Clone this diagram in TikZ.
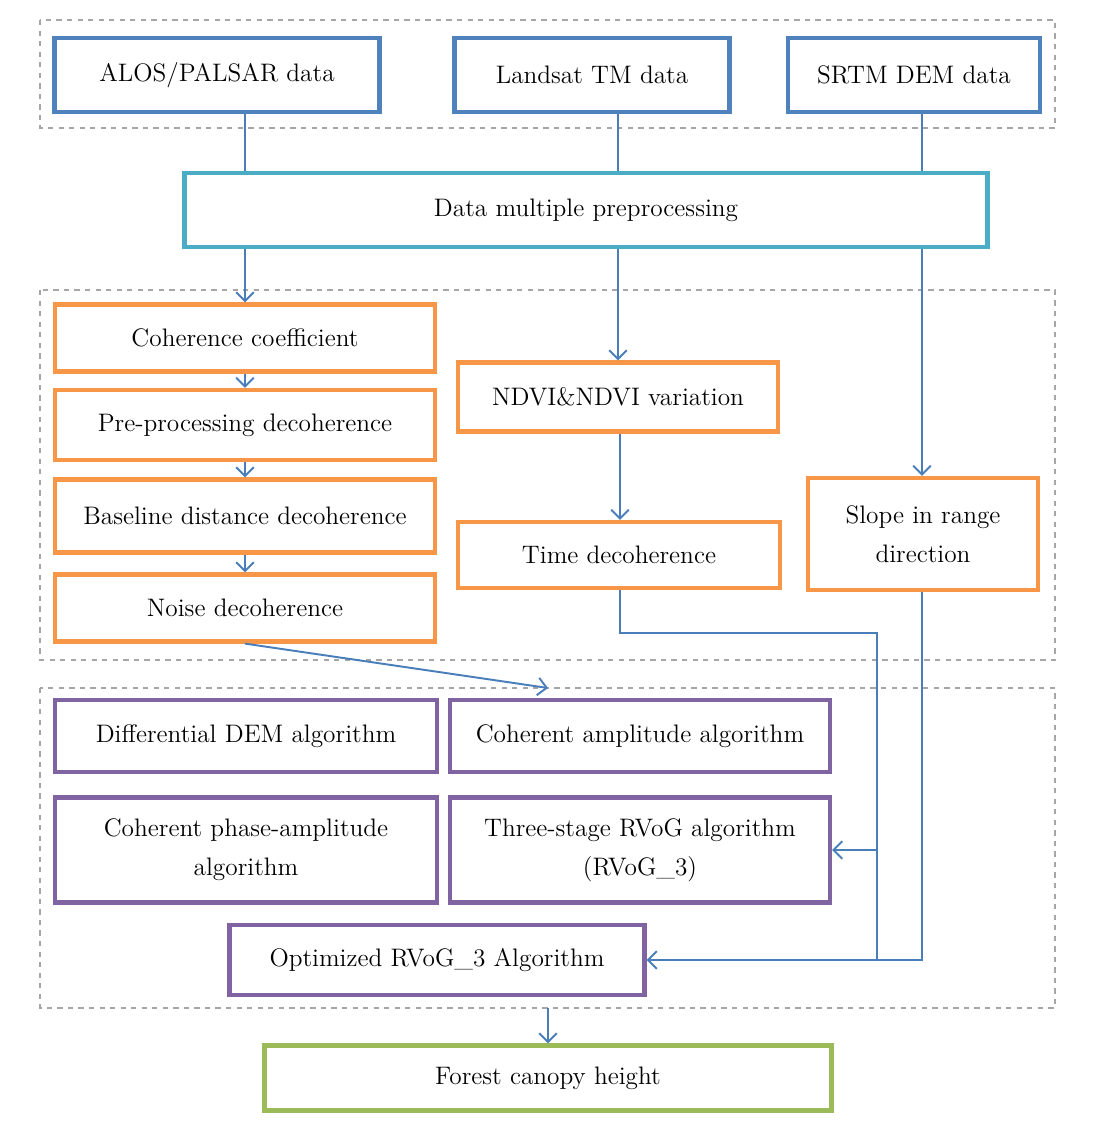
\documentclass[tikz,border=0pt]{standalone}
\usepackage{tikz}
\usetikzlibrary{calc, arrows.meta}
\definecolor{cblue}{HTML}{4F81BD}
\definecolor{ccyan}{HTML}{4BACC6}
\definecolor{corange}{HTML}{F79646}
\definecolor{cpurple}{HTML}{8064A2}
\definecolor{cgreen}{HTML}{9BBB59}
\definecolor{cline}{HTML}{4A7EBB}
\tikzset{
	box/.style={draw, line width=2.4pt, font=\Large, align=center, inner sep=0pt},
	grp/.style={draw=gray!70, dashed, line width=0.8pt},
	conn/.style={draw=cline, line width=1.1pt},
	arr/.style={conn, -{Straight Barb[length=5pt,width=10pt]}}
}
\begin{document}
\begin{tikzpicture}[x=0.02cm, y=-0.02cm]
	\useasboundingbox (0,0) rectangle (1100,1128);
	
	% dashed groups
	\draw[grp] (40,20) rectangle (1055,128);
	\draw[grp] (40,290) rectangle (1055,660);
	\draw[grp] (40,688) rectangle (1055,1008);
	\coordinate (g3b) at (548,1008);
	\coordinate (g3t) at (548,688);
	
	% input data
	\node[box, draw=cblue, minimum width=6.5cm, minimum height=1.48cm] (alos) at (217,75) {ALOS/PALSAR data};
	\node[box, draw=cblue, minimum width=5.5cm, minimum height=1.48cm] (land) at (592,75) {Landsat TM data};
	\node[box, draw=cblue, minimum width=5.04cm, minimum height=1.48cm] (srtm) at (914,75) {SRTM DEM data};
	\node[box, draw=ccyan, minimum width=16.06cm, minimum height=1.48cm] (pre) at (586,210) {Data multiple preprocessing};
	
	% coherence chain
	\node[box, draw=corange, minimum width=7.6cm, minimum height=1.34cm] (coh) at (245,338) {Coherence coefficient};
	\node[box, draw=corange, minimum width=7.6cm, minimum height=1.4cm] (ppd) at (245,425) {Pre-processing decoherence};
	\node[box, draw=corange, minimum width=7.6cm, minimum height=1.46cm] (bdd) at (245,516) {Baseline distance decoherence};
	\node[box, draw=corange, minimum width=7.6cm, minimum height=1.34cm] (nod) at (245,608) {Noise decoherence};
	\node[box, draw=corange, minimum width=6.4cm, minimum height=1.38cm] (ndvi) at (618,397) {NDVI\&NDVI variation};
	\node[box, draw=corange, minimum width=6.44cm, minimum height=1.32cm] (td) at (619,555) {Time decoherence};
	\node[box, draw=corange, minimum width=4.6cm, minimum height=2.24cm] (slope) at (923,534) {Slope in range\\[4pt]direction};
	
	% algorithms
	\node[box, draw=cpurple, minimum width=7.64cm, minimum height=1.44cm] (ddem) at (246,736) {Differential DEM algorithm};
	\node[box, draw=cpurple, minimum width=7.6cm, minimum height=1.44cm] (camp) at (640,736) {Coherent amplitude algorithm};
	\node[box, draw=cpurple, minimum width=7.64cm, minimum height=2.1cm] (cpa) at (246,850) {Coherent phase-amplitude\\[4pt]algorithm};
	\node[box, draw=cpurple, minimum width=7.6cm, minimum height=2.1cm] (rvog) at (640,850) {Three-stage RVoG algorithm\\[4pt](RVoG\_3)};
	\node[box, draw=cpurple, minimum width=8.3cm, minimum height=1.4cm] (opt) at (437,960) {Optimized RVoG\_3 Algorithm};
	\node[box, draw=cgreen, minimum width=11.34cm, minimum height=1.3cm] (fch) at (548,1078) {Forest canopy height};
	
	% connectors
	\draw[conn] (alos.south -| 245,0) -- (pre.north -| 245,0);
	\draw[conn] (land.south -| 618,0) -- (pre.north -| 618,0);
	\draw[conn] (srtm.south -| 922,0) -- (pre.north -| 922,0);
	\draw[arr] (pre.south -| 245,0) -- (coh.north -| 245,0);
	\draw[arr] (pre.south -| 618,0) -- (ndvi.north -| 618,0);
	\draw[arr] (pre.south -| 922,0) -- (slope.north -| 922,0);
	\draw[arr] (coh) -- (ppd);
	\draw[arr] (ppd) -- (bdd);
	\draw[arr] (bdd) -- (nod);
	\draw[arr] (ndvi.south -| 620,0) -- (td.north -| 620,0);
	\draw[arr] (nod.south) -- (g3t);
	\draw[conn] (td.south -| 620,0) -- (620,633) -- (877,633) -- (877,960);
	\draw[arr] (877,850) -- (rvog.east);
	\draw[arr] (slope.south -| 922,0) -- (922,960) -- (opt.east);
	\draw[arr] (g3b) -- (fch.north);
\end{tikzpicture}
\end{document}
